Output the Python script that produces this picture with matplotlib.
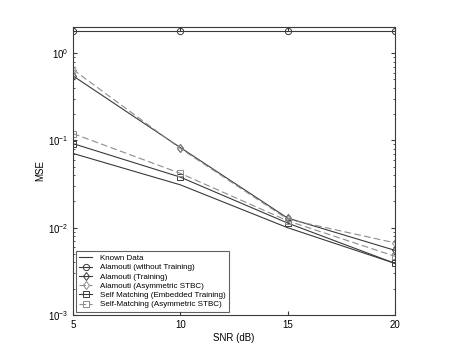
import numpy as np
import matplotlib
matplotlib.use("Agg")
import matplotlib.pyplot as plt

snr = [5, 10, 15, 20]

known_data = [0.071, 0.031, 0.0100, 0.0039]
alamouti_no_train = [1.8, 1.8, 1.8, 1.8]
alamouti_train = [0.55, 0.083, 0.0129, 0.0055]
alamouti_asym = [0.65, 0.081, 0.0125, 0.0067]
self_embedded = [0.092, 0.038, 0.0113, 0.0039]
self_asym = [0.12, 0.042, 0.0120, 0.0047]

labels = ["Known Data",
          "Alamouti (without Training)",
          "Alamouti (Training)",
          "Alamouti (Asymmetric STBC)",
          "Self Matching (Embedded Training)",
          "Self-Matching (Asymmetric STBC)"]

plt.rcParams['font.family'] = ['Liberation Sans', 'DejaVu Sans']

fig = plt.figure(figsize=(4.74, 3.55), dpi=100)
ax = fig.add_axes([0.154, 0.113, 0.679, 0.811])

dark = '#3a3a3a'
light = '#8c8c8c'
mk = dict(markersize=4.5, markerfacecolor='none', markeredgewidth=0.7)

ax.plot(snr, known_data, '-', color=dark, lw=0.8, label=labels[0])
ax.plot(snr, alamouti_no_train, '-o', color=dark, lw=0.8, label=labels[1], **mk)
ax.plot(snr, alamouti_train, '-d', color=dark, lw=0.8, label=labels[2], **mk)
ax.plot(snr, alamouti_asym, '--d', color=light, lw=0.8, dashes=(6, 3), label=labels[3], **mk)
ax.plot(snr, self_embedded, '-s', color=dark, lw=0.8, label=labels[4], **mk)
ax.plot(snr, self_asym, '--s', color=light, lw=0.8, dashes=(6, 3), label=labels[5], **mk)

ax.set_yscale('log')
ax.set_xlim(5, 20)
ax.set_ylim(1e-3, 2)
ax.set_xticks([5, 10, 15, 20])
ax.tick_params(which='both', direction='in', top=True, right=True, labelsize=7, color=dark)
ax.tick_params(which='major', length=3)
ax.tick_params(which='minor', length=1.5)
for s in ax.spines.values():
    s.set_color(dark)
    s.set_linewidth(0.8)

ax.set_xlabel("SNR (dB)", fontsize=7, labelpad=2)
ax.set_ylabel("MSE", fontsize=7, labelpad=2)

leg = ax.legend(loc='lower left', fontsize=5.8, frameon=True, fancybox=False,
                borderpad=0.4, labelspacing=0.2, handlelength=1.6,
                handletextpad=1.0, borderaxespad=0.4)
leg.get_frame().set_edgecolor(dark)
leg.get_frame().set_linewidth(0.8)

fig.savefig("out.png", dpi=100)
